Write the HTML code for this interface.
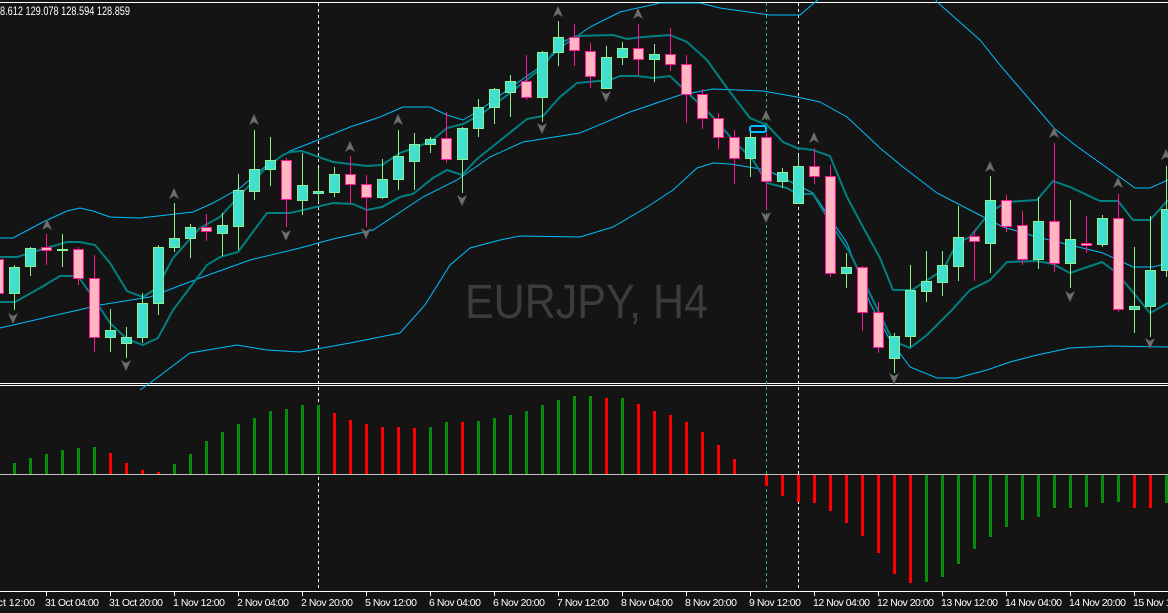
<!DOCTYPE html>
<html><head><meta charset="utf-8"><style>
html,body{margin:0;padding:0;background:#141414;}
svg{display:block;}
</style></head><body>
<svg width="1168" height="613" viewBox="0 0 1168 613" xmlns="http://www.w3.org/2000/svg">
<rect width="1168" height="613" fill="#141414"/>
<text x="465" y="318" font-family="Liberation Sans, sans-serif" font-size="48" fill="#3c3c3c" textLength="243" lengthAdjust="spacingAndGlyphs">EURJPY, H4</text>
<line x1="0" y1="2.5" x2="1168" y2="2.5" stroke="#fff" stroke-width="1"/>
<line x1="0" y1="383.5" x2="1168" y2="383.5" stroke="#fff" stroke-width="1"/>
<line x1="0" y1="385.5" x2="1168" y2="385.5" stroke="#fff" stroke-width="1"/>
<line x1="0" y1="591.5" x2="1168" y2="591.5" stroke="#fff" stroke-width="1"/>
<line x1="0" y1="474.5" x2="1168" y2="474.5" stroke="#c0c0c0" stroke-width="1"/>
<line x1="318.5" y1="3" x2="318.5" y2="591" stroke="#fff" stroke-dasharray="3,3"/>
<line x1="798.5" y1="3" x2="798.5" y2="591" stroke="#fff" stroke-dasharray="3,3"/>
<line x1="766.5" y1="3" x2="766.5" y2="591" stroke="#3cb371" stroke-dasharray="3,3"/>
<g fill="none" stroke="#00bfff" stroke-width="1">
<polyline points="0,238 13,238 43,222 67,211 80,208 93,211 110,217 140,218 167,215 193,212 213,203 240,188 267,165 290,151 318,140 350,127 380,117 403,107 430,107 447,115 463,120 480,110 517,83 543,65 560,48 590,27 620,12 660,3 700,3 720,8 770,15 800,15 820,-2"/>
<polyline points="935,-2 937,2 980,40 1000,65 1030,100 1054,128 1075,145 1110,170 1135,188 1150,188 1168,180"/>
<polyline points="0,328 100,305 150,297 200,278 250,260 300,248 333,239 373,230 423,197 457,180 490,157 523,142 580,133 630,112 680,95 713,89 763,91 797,97 820,102 847,117 880,148 903,167 937,193 970,210 1003,227 1037,237 1070,245 1103,253 1133,267 1153,267 1168,263"/>
<polyline points="140,390 150,383 190,353 237,345 267,350 300,352 350,343 400,333 425,305 450,265 470,248 500,240 520,236 580,237 613,227 647,207 673,190 697,168 713,163 730,164 767,170 813,193 847,243 870,303 890,340 910,367 937,378 957,378 987,370 1010,362 1037,355 1070,348 1110,346 1168,347"/>
</g>
<g fill="none" stroke="#008080" stroke-width="2">
<polyline points="0,257 17,257 43,249 67,242 80,242 95,245 110,263 127,291 143,297 157,288 173,258 200,228 220,217 240,195 267,167 283,155 290,152 302,151 333,162 367,166 382,165 400,153 430,142 447,128 463,124 480,115 510,93 543,67 560,43 577,36 613,35 627,39 643,37 670,35 687,42 707,60 727,88 750,118 767,125 783,142 797,148 813,150 830,156 847,197 863,227 880,258 893,290 912,290 943,270 957,243 970,237 990,212 1007,202 1037,200 1053,181 1070,187 1100,201 1118,201 1133,220 1150,220 1168,200"/>
<polyline points="0,302 15,302 40,288 60,276 78,276 97,303 110,323 127,339 143,345 158,338 173,310 207,265 220,257 238,252 267,213 290,213 333,203 353,204 367,210 382,207 400,197 413,194 433,178 447,170 462,175 477,159 497,143 527,119 543,116 560,97 577,83 610,80 620,76 637,76 653,78 670,76 690,95 713,117 733,140 753,160 767,183 787,188 797,194 813,194 833,227 850,253 870,294 893,341 910,348 927,335 950,312 970,290 990,280 1007,262 1037,261 1053,264 1070,273 1102,262 1117,273 1150,313 1168,303"/>
</g>
<g shape-rendering="crispEdges" stroke-width="1">
<g stroke="#ff1493" fill="#ffb6c1">
<line x1="-1.5" y1="255" x2="-1.5" y2="300"/><rect x="-6.5" y="259.5" width="10" height="34"/>
<line x1="46.5" y1="234" x2="46.5" y2="265"/><rect x="41.5" y="247.5" width="10" height="3"/>
<line x1="78.5" y1="247" x2="78.5" y2="285"/><rect x="73.5" y="249.5" width="10" height="29"/>
<line x1="94.5" y1="255" x2="94.5" y2="352"/><rect x="89.5" y="278.5" width="10" height="59"/>
<line x1="206.5" y1="214" x2="206.5" y2="241"/><rect x="201.5" y="227.5" width="10" height="4"/>
<line x1="286.5" y1="158" x2="286.5" y2="227"/><rect x="281.5" y="160.5" width="10" height="39"/>
<line x1="350.5" y1="156" x2="350.5" y2="204"/><rect x="345.5" y="174.5" width="10" height="10"/>
<line x1="366.5" y1="175" x2="366.5" y2="227"/><rect x="361.5" y="184.5" width="10" height="13"/>
<line x1="446.5" y1="112" x2="446.5" y2="163"/><rect x="441.5" y="138.5" width="10" height="21"/>
<line x1="526.5" y1="55" x2="526.5" y2="100"/><rect x="521.5" y="81.5" width="10" height="16"/>
<line x1="574.5" y1="24" x2="574.5" y2="66"/><rect x="569.5" y="37.5" width="10" height="13"/>
<line x1="590.5" y1="43" x2="590.5" y2="88"/><rect x="585.5" y="51.5" width="10" height="25"/>
<line x1="638.5" y1="24" x2="638.5" y2="75"/><rect x="633.5" y="48.5" width="10" height="11"/>
<line x1="670.5" y1="28" x2="670.5" y2="71"/><rect x="665.5" y="54.5" width="10" height="10"/>
<line x1="686.5" y1="55" x2="686.5" y2="123"/><rect x="681.5" y="64.5" width="10" height="30"/>
<line x1="702.5" y1="89" x2="702.5" y2="129"/><rect x="697.5" y="94.5" width="10" height="24"/>
<line x1="718.5" y1="113" x2="718.5" y2="149"/><rect x="713.5" y="118.5" width="10" height="19"/>
<line x1="734.5" y1="130" x2="734.5" y2="184"/><rect x="729.5" y="137.5" width="10" height="21"/>
<line x1="766.5" y1="133" x2="766.5" y2="209"/><rect x="761.5" y="137.5" width="10" height="44"/>
<line x1="814.5" y1="148" x2="814.5" y2="184"/><rect x="809.5" y="166.5" width="10" height="10"/>
<line x1="830.5" y1="165" x2="830.5" y2="277"/><rect x="825.5" y="176.5" width="10" height="97"/>
<line x1="862.5" y1="266" x2="862.5" y2="331"/><rect x="857.5" y="267.5" width="10" height="45"/>
<line x1="878.5" y1="302" x2="878.5" y2="353"/><rect x="873.5" y="312.5" width="10" height="35"/>
<line x1="974.5" y1="230" x2="974.5" y2="281"/><rect x="969.5" y="236.5" width="10" height="5"/>
<line x1="1006.5" y1="195" x2="1006.5" y2="232"/><rect x="1001.5" y="200.5" width="10" height="26"/>
<line x1="1022.5" y1="211" x2="1022.5" y2="265"/><rect x="1017.5" y="225.5" width="10" height="34"/>
<line x1="1054.5" y1="143" x2="1054.5" y2="272"/><rect x="1049.5" y="221.5" width="10" height="42"/>
<line x1="1086.5" y1="216" x2="1086.5" y2="253"/><rect x="1081.5" y="243.5" width="10" height="2"/>
<line x1="1118.5" y1="194" x2="1118.5" y2="312"/><rect x="1113.5" y="218.5" width="10" height="91"/>
</g>
<g stroke="#90ee90" fill="#40e0d0">
<line x1="14.5" y1="265" x2="14.5" y2="310"/><rect x="9.5" y="267.5" width="10" height="26"/>
<line x1="30.5" y1="247" x2="30.5" y2="276"/><rect x="25.5" y="248.5" width="10" height="18"/>
<line x1="62.5" y1="234" x2="62.5" y2="267"/><rect x="57.5" y="249.5" width="10" height="1"/>
<line x1="110.5" y1="309" x2="110.5" y2="352"/><rect x="105.5" y="330.5" width="10" height="7"/>
<line x1="126.5" y1="327" x2="126.5" y2="358"/><rect x="121.5" y="337.5" width="10" height="6"/>
<line x1="142.5" y1="293" x2="142.5" y2="343"/><rect x="137.5" y="303.5" width="10" height="34"/>
<line x1="158.5" y1="245" x2="158.5" y2="315"/><rect x="153.5" y="247.5" width="10" height="56"/>
<line x1="174.5" y1="203" x2="174.5" y2="252"/><rect x="169.5" y="238.5" width="10" height="9"/>
<line x1="190.5" y1="224" x2="190.5" y2="258"/><rect x="185.5" y="227.5" width="10" height="11"/>
<line x1="222.5" y1="213" x2="222.5" y2="256"/><rect x="217.5" y="225.5" width="10" height="8"/>
<line x1="238.5" y1="174" x2="238.5" y2="250"/><rect x="233.5" y="190.5" width="10" height="36"/>
<line x1="254.5" y1="130" x2="254.5" y2="200"/><rect x="249.5" y="169.5" width="10" height="22"/>
<line x1="270.5" y1="137" x2="270.5" y2="186"/><rect x="265.5" y="160.5" width="10" height="9"/>
<line x1="302.5" y1="153" x2="302.5" y2="215"/><rect x="297.5" y="185.5" width="10" height="15"/>
<line x1="318.5" y1="168" x2="318.5" y2="202"/><rect x="313.5" y="191.5" width="10" height="2"/>
<line x1="334.5" y1="167" x2="334.5" y2="197"/><rect x="329.5" y="174.5" width="10" height="18"/>
<line x1="382.5" y1="159" x2="382.5" y2="199"/><rect x="377.5" y="179.5" width="10" height="18"/>
<line x1="398.5" y1="130" x2="398.5" y2="190"/><rect x="393.5" y="156.5" width="10" height="23"/>
<line x1="414.5" y1="133" x2="414.5" y2="190"/><rect x="409.5" y="144.5" width="10" height="17"/>
<line x1="430.5" y1="137" x2="430.5" y2="153"/><rect x="425.5" y="139.5" width="10" height="5"/>
<line x1="462.5" y1="127" x2="462.5" y2="193"/><rect x="457.5" y="128.5" width="10" height="31"/>
<line x1="478.5" y1="99" x2="478.5" y2="137"/><rect x="473.5" y="107.5" width="10" height="21"/>
<line x1="494.5" y1="88" x2="494.5" y2="124"/><rect x="489.5" y="89.5" width="10" height="18"/>
<line x1="510.5" y1="75" x2="510.5" y2="117"/><rect x="505.5" y="81.5" width="10" height="11"/>
<line x1="542.5" y1="51" x2="542.5" y2="122"/><rect x="537.5" y="52.5" width="10" height="45"/>
<line x1="558.5" y1="21" x2="558.5" y2="66"/><rect x="553.5" y="37.5" width="10" height="15"/>
<line x1="606.5" y1="46" x2="606.5" y2="88"/><rect x="601.5" y="57.5" width="10" height="31"/>
<line x1="622.5" y1="42" x2="622.5" y2="65"/><rect x="617.5" y="48.5" width="10" height="9"/>
<line x1="654.5" y1="44" x2="654.5" y2="82"/><rect x="649.5" y="54.5" width="10" height="5"/>
<line x1="750.5" y1="132" x2="750.5" y2="177"/><rect x="745.5" y="137.5" width="10" height="21"/>
<line x1="782.5" y1="168" x2="782.5" y2="188"/><rect x="777.5" y="172.5" width="10" height="9"/>
<line x1="798.5" y1="156" x2="798.5" y2="203"/><rect x="793.5" y="166.5" width="10" height="37"/>
<line x1="846.5" y1="253" x2="846.5" y2="288"/><rect x="841.5" y="267.5" width="10" height="6"/>
<line x1="894.5" y1="333" x2="894.5" y2="373"/><rect x="889.5" y="336.5" width="10" height="22"/>
<line x1="910.5" y1="265" x2="910.5" y2="347"/><rect x="905.5" y="290.5" width="10" height="46"/>
<line x1="926.5" y1="251" x2="926.5" y2="302"/><rect x="921.5" y="281.5" width="10" height="10"/>
<line x1="942.5" y1="251" x2="942.5" y2="296"/><rect x="937.5" y="265.5" width="10" height="17"/>
<line x1="958.5" y1="206" x2="958.5" y2="281"/><rect x="953.5" y="237.5" width="10" height="29"/>
<line x1="990.5" y1="176" x2="990.5" y2="273"/><rect x="985.5" y="200.5" width="10" height="43"/>
<line x1="1038.5" y1="197" x2="1038.5" y2="269"/><rect x="1033.5" y="221.5" width="10" height="38"/>
<line x1="1070.5" y1="200" x2="1070.5" y2="288"/><rect x="1065.5" y="239.5" width="10" height="24"/>
<line x1="1102.5" y1="215" x2="1102.5" y2="247"/><rect x="1097.5" y="218.5" width="10" height="26"/>
<line x1="1134.5" y1="247" x2="1134.5" y2="333"/><rect x="1129.5" y="306.5" width="10" height="3"/>
<line x1="1150.5" y1="216" x2="1150.5" y2="337"/><rect x="1145.5" y="270.5" width="10" height="36"/>
<line x1="1166.5" y1="166" x2="1166.5" y2="277"/><rect x="1161.5" y="209.5" width="10" height="61"/>
</g>
</g>
<rect x="750" y="126" width="16" height="6" rx="2" fill="#141414" stroke="#00bfff" stroke-width="2"/>
<g fill="#6e6e6e" stroke="#3a3a3a" stroke-width="0.5">
<polygon transform="translate(47,225)" points="0,-6 5,5 0,2 -5,5"/>
<polygon transform="translate(174,194)" points="0,-6 5,5 0,2 -5,5"/>
<polygon transform="translate(254,120)" points="0,-6 5,5 0,2 -5,5"/>
<polygon transform="translate(350,147)" points="0,-6 5,5 0,2 -5,5"/>
<polygon transform="translate(398,120)" points="0,-6 5,5 0,2 -5,5"/>
<polygon transform="translate(558,12)" points="0,-6 5,5 0,2 -5,5"/>
<polygon transform="translate(638,14)" points="0,-6 5,5 0,2 -5,5"/>
<polygon transform="translate(766,116)" points="0,-6 5,5 0,2 -5,5"/>
<polygon transform="translate(814,138)" points="0,-6 5,5 0,2 -5,5"/>
<polygon transform="translate(990,167)" points="0,-6 5,5 0,2 -5,5"/>
<polygon transform="translate(1054,133)" points="0,-6 5,5 0,2 -5,5"/>
<polygon transform="translate(1118,183)" points="0,-6 5,5 0,2 -5,5"/>
<polygon transform="translate(1166,155)" points="0,-6 5,5 0,2 -5,5"/>
<polygon transform="translate(13,318)" points="0,6 5,-5 0,-2 -5,-5"/>
<polygon transform="translate(126,365)" points="0,6 5,-5 0,-2 -5,-5"/>
<polygon transform="translate(286,235)" points="0,6 5,-5 0,-2 -5,-5"/>
<polygon transform="translate(366,233)" points="0,6 5,-5 0,-2 -5,-5"/>
<polygon transform="translate(462,200)" points="0,6 5,-5 0,-2 -5,-5"/>
<polygon transform="translate(542,128)" points="0,6 5,-5 0,-2 -5,-5"/>
<polygon transform="translate(606,96)" points="0,6 5,-5 0,-2 -5,-5"/>
<polygon transform="translate(766,217)" points="0,6 5,-5 0,-2 -5,-5"/>
<polygon transform="translate(894,378)" points="0,6 5,-5 0,-2 -5,-5"/>
<polygon transform="translate(1070,296)" points="0,6 5,-5 0,-2 -5,-5"/>
<polygon transform="translate(1150,343)" points="0,6 5,-5 0,-2 -5,-5"/>
</g>
<g shape-rendering="crispEdges">
<g fill="#0a8a0a">
<rect x="13" y="463" width="3" height="11"/><rect x="29" y="458" width="3" height="16"/><rect x="45" y="454" width="3" height="20"/><rect x="61" y="450" width="3" height="24"/><rect x="77" y="448" width="3" height="26"/><rect x="93" y="447" width="3" height="27"/>
<rect x="173" y="464" width="3" height="10"/><rect x="189" y="454" width="3" height="20"/><rect x="205" y="441" width="3" height="33"/><rect x="221" y="432" width="3" height="42"/><rect x="237" y="424" width="3" height="50"/><rect x="253" y="418" width="3" height="56"/><rect x="269" y="411" width="3" height="63"/><rect x="285" y="409" width="3" height="65"/><rect x="301" y="405" width="3" height="69"/><rect x="317" y="405" width="3" height="69"/>
<rect x="429" y="427" width="3" height="47"/><rect x="445" y="422" width="3" height="52"/>
<rect x="477" y="421" width="3" height="53"/><rect x="493" y="418" width="3" height="56"/><rect x="509" y="415" width="3" height="59"/><rect x="525" y="411" width="3" height="63"/><rect x="541" y="405" width="3" height="69"/><rect x="557" y="400" width="3" height="74"/><rect x="573" y="396" width="3" height="78"/><rect x="589" y="396" width="3" height="78"/>
<rect x="621" y="398" width="3" height="76"/>
<rect x="925" y="475" width="3" height="107"/><rect x="941" y="475" width="3" height="102"/><rect x="957" y="475" width="3" height="89"/><rect x="973" y="475" width="3" height="74"/><rect x="989" y="475" width="3" height="62"/><rect x="1005" y="475" width="3" height="52"/><rect x="1021" y="475" width="3" height="45"/><rect x="1037" y="475" width="3" height="42"/><rect x="1053" y="475" width="3" height="33"/><rect x="1069" y="475" width="3" height="33"/><rect x="1085" y="475" width="3" height="32"/><rect x="1101" y="475" width="3" height="28"/><rect x="1117" y="475" width="3" height="27"/>
<rect x="1165" y="475" width="3" height="28"/>
</g>
<g fill="#ff0000">
<rect x="109" y="453" width="3" height="21"/><rect x="125" y="463" width="3" height="11"/><rect x="141" y="470" width="3" height="4"/><rect x="157" y="472" width="3" height="2"/>
<rect x="333" y="413" width="3" height="61"/><rect x="349" y="420" width="3" height="54"/><rect x="365" y="424" width="3" height="50"/><rect x="381" y="427" width="3" height="47"/><rect x="397" y="427" width="3" height="47"/><rect x="413" y="428" width="3" height="46"/>
<rect x="461" y="422" width="3" height="52"/>
<rect x="605" y="398" width="3" height="76"/>
<rect x="637" y="404" width="3" height="70"/><rect x="653" y="411" width="3" height="63"/><rect x="669" y="415" width="3" height="59"/><rect x="685" y="422" width="3" height="52"/><rect x="701" y="432" width="3" height="42"/><rect x="717" y="445" width="3" height="29"/><rect x="733" y="459" width="3" height="15"/>
<rect x="765" y="475" width="3" height="11"/><rect x="781" y="475" width="3" height="21"/><rect x="797" y="475" width="3" height="27"/><rect x="813" y="475" width="3" height="28"/><rect x="829" y="475" width="3" height="36"/><rect x="845" y="475" width="3" height="48"/><rect x="861" y="475" width="3" height="61"/><rect x="877" y="475" width="3" height="78"/><rect x="893" y="475" width="3" height="99"/><rect x="909" y="475" width="3" height="108"/>
<rect x="1133" y="475" width="3" height="33"/><rect x="1149" y="475" width="3" height="33"/>
</g>
</g>
<text x="0" y="15" font-family="Liberation Sans, sans-serif" font-size="12" fill="#ffffff" textLength="130" lengthAdjust="spacingAndGlyphs">8.612 129.078 128.594 128.859</text>
<g stroke="#fff" stroke-width="1">
<line x1="46.5" y1="592" x2="46.5" y2="596"/><line x1="110.5" y1="592" x2="110.5" y2="596"/><line x1="174.5" y1="592" x2="174.5" y2="596"/><line x1="238.5" y1="592" x2="238.5" y2="596"/><line x1="302.5" y1="592" x2="302.5" y2="596"/><line x1="366.5" y1="592" x2="366.5" y2="596"/><line x1="430.5" y1="592" x2="430.5" y2="596"/><line x1="494.5" y1="592" x2="494.5" y2="596"/><line x1="558.5" y1="592" x2="558.5" y2="596"/><line x1="622.5" y1="592" x2="622.5" y2="596"/><line x1="686.5" y1="592" x2="686.5" y2="596"/><line x1="750.5" y1="592" x2="750.5" y2="596"/><line x1="814.5" y1="592" x2="814.5" y2="596"/><line x1="878.5" y1="592" x2="878.5" y2="596"/><line x1="942.5" y1="592" x2="942.5" y2="596"/><line x1="1006.5" y1="592" x2="1006.5" y2="596"/><line x1="1070.5" y1="592" x2="1070.5" y2="596"/><line x1="1134.5" y1="592" x2="1134.5" y2="596"/>
</g>
<g font-family="Liberation Sans, sans-serif" font-size="10.5" fill="#ffffff" lengthAdjust="spacingAndGlyphs">
<text x="-25" y="606" textLength="60">30 Oct 12:00</text>
<text x="45" y="606" textLength="54">31 Oct 04:00</text>
<text x="109" y="606" textLength="54">31 Oct 20:00</text>
<text x="173" y="606" textLength="52">1 Nov 12:00</text>
<text x="237" y="606" textLength="52">2 Nov 04:00</text>
<text x="301" y="606" textLength="52">2 Nov 20:00</text>
<text x="365" y="606" textLength="52">5 Nov 12:00</text>
<text x="429" y="606" textLength="52">6 Nov 04:00</text>
<text x="493" y="606" textLength="52">6 Nov 20:00</text>
<text x="557" y="606" textLength="52">7 Nov 12:00</text>
<text x="621" y="606" textLength="52">8 Nov 04:00</text>
<text x="685" y="606" textLength="52">8 Nov 20:00</text>
<text x="749" y="606" textLength="52">9 Nov 12:00</text>
<text x="813" y="606" textLength="57">12 Nov 04:00</text>
<text x="877" y="606" textLength="57">12 Nov 20:00</text>
<text x="941" y="606" textLength="57">13 Nov 12:00</text>
<text x="1005" y="606" textLength="57">14 Nov 04:00</text>
<text x="1069" y="606" textLength="57">14 Nov 20:00</text>
<text x="1133" y="606" textLength="57">15 Nov 12:00</text>
</g>
</svg>
</body></html>
